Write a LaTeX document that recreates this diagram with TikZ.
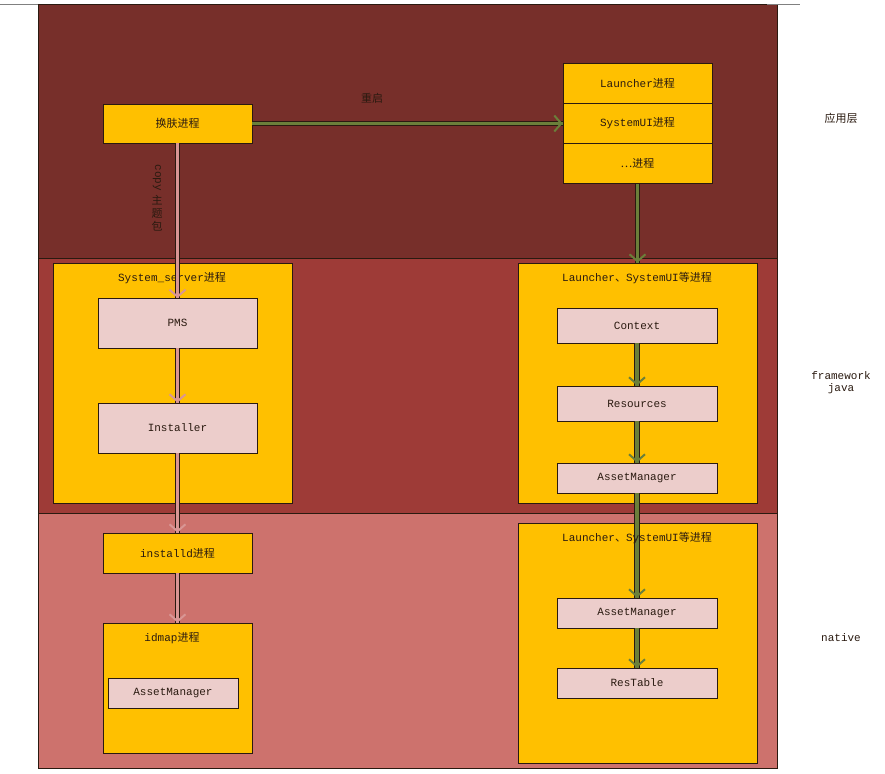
\documentclass[tikz,border=0pt]{standalone}
\usepackage{fontspec}
\setmainfont{Liberation Mono}
\newfontfamily\cjk{Noto Sans CJK SC}
\usetikzlibrary{arrows.meta,calc}
\definecolor{bandA}{HTML}{772F2A}
\definecolor{bandB}{HTML}{9E3B37}
\definecolor{bandC}{HTML}{CD726D}
\definecolor{yel}{HTML}{FFC000}
\definecolor{pk}{HTML}{ECCDCB}
\definecolor{pkar}{HTML}{D99694}
\definecolor{gr}{HTML}{6B7F3A}
\definecolor{ln}{HTML}{2A1A10}
\begin{document}
\begin{tikzpicture}[x=1pt,y=-1pt,
  ybox/.style={draw=ln,fill=yel,line width=0.8pt},
  pbox/.style={draw=ln,fill=pk,line width=0.8pt},
  txt/.style={font=\fontsize{11}{12}\selectfont,text=ln,inner sep=0},
  parr/.style={draw=ln,double=pkar,double distance=3.5pt,line width=0.8pt},
  garr/.style={draw=ln,double=gr,double distance=3.5pt,line width=0.8pt},
  phead/.style={-{Straight Barb[length=7pt,width=16pt,line width=2pt]},draw=pkar},
  ghead/.style={-{Straight Barb[length=7pt,width=16pt,line width=2pt]},draw=gr}]
\useasboundingbox (0,0) rectangle (885,773);
\fill[white] (0,0) rectangle (885,773);
\fill[bandA] (38,4) rectangle (777,258);
\fill[bandB] (38,258) rectangle (777,513);
\fill[bandC] (38,513) rectangle (777,768);
\draw[ln,line width=0.8pt] (38,4) rectangle (777,768) (38,258)--(777,258) (38,513)--(777,513);
\draw[gray] (0,4)--(38,4) (767,4)--(800,4);
% top
\node[ybox,minimum width=149pt,minimum height=39pt] (skin) at (177.5,123.5) {};
\node[txt] at (skin) {\cjk 换肤进程};
\node[ybox,minimum width=149pt,minimum height=40pt] (l1) at (637.5,83.5) {};
\node[txt] at (l1) {Launcher{\cjk 进程}};
\node[ybox,minimum width=149pt,minimum height=40pt] (l2) at (637.5,123.5) {};
\node[txt] at (l2) {SystemUI{\cjk 进程}};
\node[ybox,minimum width=149pt,minimum height=40pt] (l3) at (637.5,163.5) {};
\node[txt] at (l3) {{\cjk …进程}};
\node[txt] (rst) at (372,98) {\cjk 重启};
% middle left
\node[ybox,minimum width=239pt,minimum height=240pt] (ss) at (172.5,383) {};
\node[txt] (sst) at (172,278) {System\_server{\cjk 进程}};
\node[pbox,minimum width=159pt,minimum height=50pt] (pms) at (177.5,323) {};
\node[txt] at (pms) {PMS};
\node[pbox,minimum width=159pt,minimum height=50pt] (ins) at (177.5,428) {};
\node[txt] at (ins) {Installer};
% bottom left
\node[ybox,minimum width=149pt,minimum height=40pt] (ind) at (177.5,553) {};
\node[txt] at (ind) {installd{\cjk 进程}};
\node[ybox,minimum width=149pt,minimum height=130pt] (idm) at (177.5,688) {};
\node[txt] (idmt) at (172,638) {idmap{\cjk 进程}};
\node[pbox,minimum width=130pt,minimum height=30pt] (am0) at (173,693) {};
\node[txt] at (am0) {AssetManager};
% middle right
\node[ybox,minimum width=239pt,minimum height=240pt] (lr) at (637.5,383) {};
\node[txt] (lrt) at (637,278) {Launcher{\cjk 、}SystemUI{\cjk 等进程}};
\node[pbox,minimum width=160pt,minimum height=35pt] (ctx) at (637,325.5) {};
\node[txt] at (ctx) {Context};
\node[pbox,minimum width=160pt,minimum height=35pt] (res) at (637,403.5) {};
\node[txt] at (res) {Resources};
\node[pbox,minimum width=160pt,minimum height=30pt] (am1) at (637,478) {};
\node[txt] at (am1) {AssetManager};
% bottom right
\node[ybox,minimum width=239pt,minimum height=240pt] (nr) at (637.5,643) {};
\node[pbox,minimum width=160pt,minimum height=30pt] (am2) at (637,613) {};
\node[txt] at (am2) {AssetManager};
\node[pbox,minimum width=160pt,minimum height=30pt] (rt) at (637,683) {};
\node[txt] at (rt) {ResTable};
% side labels
\node[txt] at (841,118) {\cjk 应用层};
\node[txt,align=center] at (841,383) {framework\\java};
\node[txt] at (841,638) {native};
% pink arrows
\coordinate (a1) at (177.5,143); \coordinate (a1e) at (177.5,298);
\path[parr] (a1) -- (a1e); \draw[phead,line width=0pt] (177.5,290)--(a1e);
\path[parr] (pms.south) -- (ins.north); \draw[phead,line width=0pt] ($(ins.north)+(0,-8)$)--(ins.north);
\path[parr] (ins.south) -- (ind.north); \draw[phead,line width=0pt] (177.5,525)--(ind.north);
\path[parr] (ind.south) -- (idm.north); \draw[phead,line width=0pt] (177.5,615)--(idm.north);
% green arrows
\path[garr] (skin.east) -- (l2.west); \draw[ghead,line width=0pt] (555,123.5)--(l2.west);
\path[garr] (l3.south) -- (lr.north); \draw[ghead,line width=0pt] (637.5,255)--(lr.north);
\path[garr] (ctx.south) -- (res.north); \draw[ghead,line width=0pt] (637,378)--(res.north);
\path[garr] (res.south) -- (am1.north); \draw[ghead,line width=0pt] (637,455)--(am1.north);
\path[garr] (am1.south) -- (am2.north); \draw[ghead,line width=0pt] (637,590)--(am2.north);
\path[garr] (am2.south) -- (rt.north); \draw[ghead,line width=0pt] (637,660)--(rt.north);
% labels over arrows
\node[txt] (nrt) at (637,538) {Launcher{\cjk 、}SystemUI{\cjk 等进程}};
\node[txt,rotate=-90] (cp) at (157,178) {copy};
\node[txt,align=center,font=\fontsize{11}{13}\selectfont\cjk] (cpz) at (157,213) {主\\题\\包};
\end{tikzpicture}
\end{document}
